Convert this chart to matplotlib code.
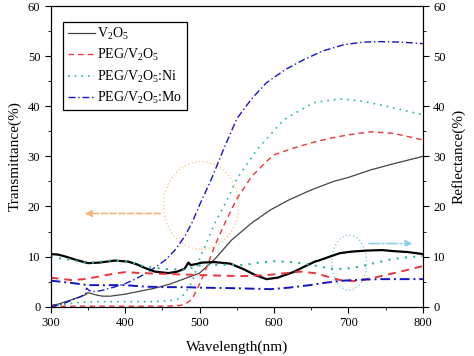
import matplotlib
matplotlib.use('Agg')
import matplotlib.pyplot as plt
from matplotlib.patches import Ellipse

plt.rcParams['font.family'] = 'Liberation Serif'
plt.rcParams['mathtext.fontset'] = 'custom'
plt.rcParams['mathtext.rm'] = 'Liberation Serif'
plt.rcParams['mathtext.it'] = 'Liberation Serif:italic'

labels = ['V$_2$O$_5$', 'PEG/V$_2$O$_5$', 'PEG/V$_2$O$_5$:Ni', 'PEG/V$_2$O$_5$:Mo']

# transmittance (left axis)
t_v2o5_wl = [300, 310, 320, 330, 340, 347, 350, 355, 362, 370, 380, 400, 420, 440, 460, 480, 500, 520, 543, 570,
             595, 620, 650, 680, 700, 730, 760, 800]
t_v2o5 = [0.3, 0.5, 1.0, 1.5, 2.0, 2.4, 2.8, 2.6, 2.3, 2.1, 2.1, 2.5, 3.1, 3.7, 4.5, 5.6, 6.7, 9.4, 13.3, 16.7,
          19.3, 21.3, 23.3, 25.0, 25.8, 27.3, 28.5, 30.0]

t_peg_wl = [300, 350, 400, 450, 470, 480, 490, 500, 510, 520, 535, 550, 570, 590, 600, 625, 650, 675, 700, 730,
            760, 800]
t_peg = [0.1, 0.1, 0.1, 0.1, 0.2, 0.4, 1.5, 4.5, 8, 12, 17, 21.5, 26, 29, 30.3, 31.6, 32.7, 33.6, 34.3, 34.9,
         34.6, 33.3]

t_ni_wl = [300, 320, 340, 360, 400, 440, 460, 470, 480, 490, 500, 510, 520, 537, 550, 577, 613, 653, 689, 720,
           760, 800]
t_ni = [0.1, 0.5, 0.9, 1.0, 1.0, 1.0, 1.2, 1.5, 2.5, 5, 9.5, 13, 16.5, 21.3, 25.5, 31.3, 37.3, 40.7, 41.5, 41.0,
        39.7, 38.3]

t_mo_wl = [300, 310, 320, 330, 340, 347, 348, 352, 360, 370, 385, 400, 415, 427, 440, 454, 467, 480, 490, 500,
           516, 532, 550, 570, 590, 615, 640, 665, 694, 720, 743, 770, 800]
t_mo = [0.0, 0.3, 0.8, 1.4, 2.0, 2.5, 3.7, 3.2, 3.0, 3.3, 3.9, 4.6, 5.6, 6.6, 7.8, 9.3, 11.3, 14.0, 16.8, 20.3,
        25.5, 31.3, 37.5, 41.5, 44.7, 47.3, 49.3, 51, 52.3, 52.8, 52.9, 52.8, 52.5]

# reflectance (right axis)
r_v2o5_wl = [300, 310, 320, 335, 350, 365, 386, 404, 415, 427, 440, 458, 470, 480, 485, 488, 495, 503, 520, 541,
             559, 575, 590, 605, 626, 645, 655, 660, 675, 689, 705, 725, 745, 760, 780, 800]
r_v2o5 = [10.5, 10.4, 10.0, 9.3, 8.7, 8.8, 9.2, 9.0, 8.5, 7.7, 7.0, 6.7, 7.0, 7.6, 8.8, 8.3, 8.5, 8.8, 8.9, 8.6,
          7.5, 6.3, 5.5, 5.8, 6.9, 8.3, 9.0, 9.2, 10.0, 10.7, 11.0, 11.2, 11.3, 11.1, 10.9, 10.5]

r_peg_wl = [300, 328, 345, 364, 385, 400, 422, 463, 503, 530, 559, 590, 635, 655, 672, 689, 711, 738, 770, 800]
r_peg = [5.8, 5.3, 5.5, 6.0, 6.6, 6.9, 6.7, 6.5, 6.3, 6.2, 6.1, 6.3, 7.0, 6.7, 6.0, 5.3, 5.1, 5.9, 7.0, 8.1]

r_ni_wl = [300, 325, 350, 380, 405, 427, 454, 481, 500, 530, 559, 580, 603, 625, 644, 662, 680, 698, 716, 735,
           752, 775, 800]
r_ni = [9.9, 9.4, 8.7, 9.2, 9.0, 8.0, 7.5, 7.4, 8.2, 8.4, 8.3, 8.8, 9.1, 8.9, 8.5, 8.0, 7.5, 7.6, 8.0, 8.7,
        9.3, 9.8, 10.1]

r_mo_wl = [300, 325, 350, 380, 400, 427, 454, 481, 500, 545, 570, 595, 620, 648, 670, 693, 720, 743, 770, 800]
r_mo = [5.2, 4.8, 4.3, 4.3, 4.3, 4.0, 3.9, 3.9, 3.8, 3.7, 3.6, 3.5, 3.8, 4.3, 4.8, 5.2, 5.4, 5.5, 5.5, 5.5]

red = '#e8363c'
teal = '#2ab5a0'
blue = '#1414c8'

fig = plt.figure(figsize=(4.74, 3.56), dpi=100)
ax = fig.add_axes([0.107, 0.1385, 0.785, 0.8445])
ax2 = ax.twinx()

ax.plot(t_v2o5_wl, t_v2o5, '-', color='#444444', lw=0.9, label=labels[0])
ax.plot(t_peg_wl, t_peg, '--', color=red, lw=1.0, dashes=(4, 3), label=labels[1])
ax.plot(t_ni_wl, t_ni, ':', color=teal, lw=1.2, dashes=(1, 3), label=labels[2])
ax.plot(t_mo_wl, t_mo, '-.', color=blue, lw=1.0, dashes=(5, 2, 1, 2), label=labels[3])

ax2.plot(r_v2o5_wl, r_v2o5, '-', color='black', lw=1.6)
ax2.plot(r_peg_wl, r_peg, '--', color=red, lw=1.4, dashes=(4, 3))
ax2.plot(r_ni_wl, r_ni, ':', color=teal, lw=1.5, dashes=(1, 3))
ax2.plot(r_mo_wl, r_mo, '-.', color=blue, lw=1.4, dashes=(5, 2, 1, 2))

# marker ellipses and arrows
ax.add_patch(Ellipse((502, 20.2), 101, 17.5, fill=False, ec='#f7cc90', ls=':', lw=1.0))
ax.annotate('', xy=(342, 18.6), xytext=(451, 18.6),
            arrowprops=dict(arrowstyle='-|>', color='#f5b27a', ls='--', lw=1.2, mutation_scale=10))
ax2.add_patch(Ellipse((701, 8.8), 47, 11, fill=False, ec='#8fd0ea', ls=':', lw=1.0))
ax2.annotate('', xy=(790, 12.6), xytext=(724, 12.6),
             arrowprops=dict(arrowstyle='-|>', color='#8fd0ea', ls='-.', lw=1.2, mutation_scale=10))

for a in (ax, ax2):
    a.set_xlim(300, 800)
    a.set_ylim(0, 60)
    a.set_yticks([0, 10, 20, 30, 40, 50, 60])
    a.set_yticks(range(5, 60, 10), minor=True)
    a.tick_params(which='both', direction='out', labelsize=9)
    a.tick_params(which='major', length=4)
    a.tick_params(which='minor', length=2)

ax.set_xticks([300, 400, 500, 600, 700, 800])
ax.set_xticks([350, 450, 550, 650, 750], minor=True)
ax.tick_params(axis='x', which='both', top=False)

ax.set_xlabel('Wavelength(nm)', fontsize=11, labelpad=8)
ax.set_ylabel('Transmittance(%)', fontsize=11)
ax2.set_ylabel('Reflectance(%)', fontsize=11)

leg = ax.legend(loc='upper left', bbox_to_anchor=(0.034, 0.948), borderaxespad=0, fontsize=10,
                frameon=True, fancybox=False, edgecolor='black', framealpha=1,
                handlelength=2.0, labelspacing=0.38, handletextpad=0.15, borderpad=0.3)
leg.get_frame().set_linewidth(0.9)

fig.savefig('out.png', dpi=100)
